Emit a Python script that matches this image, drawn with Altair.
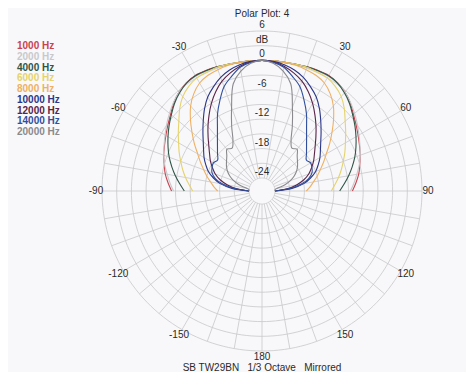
import altair as alt
import pandas as pd
import numpy as np

# ---------------- data ----------------
freqs = ["1000 Hz", "2000 Hz", "4000 Hz", "6000 Hz", "8000 Hz",
         "10000 Hz", "12000 Hz", "14000 Hz", "20000 Hz"]
colors = ["#c8434f", "#c9c9cc", "#2f5546", "#e5d36b", "#efb062",
          "#2b3688", "#5a2448", "#2f4f9e", "#8a8a8e"]

angles = [0, 5, 10, 15, 20, 25, 30, 35, 40, 45, 50, 55, 60, 65, 70, 75, 80, 85, 90]
db_1000 = [0, 0, 0, 0.1, 0.3, 0.5, 0.6, 0.3, -0.3, -1.2, -2.3, -3.2, -4.0, -4.7, -5.3, -6.0, -6.6, -7.4, -8.2]
db_2000 = [0, 0, 0, 0.1, 0.2, 0.3, 0.4, 0.2, -0.3, -1.1, -2.0, -2.9, -3.8, -4.6, -5.3, -6.1, -7.0, -7.8, -8.6]
db_4000 = [0, 0, 0, 0.1, 0.3, 0.4, 0.5, 0.2, -0.5, -1.4, -2.5, -3.5, -4.5, -5.5, -6.5, -7.6, -8.7, -9.8, -10.8]
db_6000 = [0, 0, 0, 0.1, 0.2, 0.1, 0, -0.6, -1.5, -2.9, -4.5, -5.8, -7.0, -8.0, -9.0, -9.9, -10.8, -11.7, -12.5]
db_8000 = [0, 0, 0, -0.1, -0.3, -0.6, -1.2, -2.4, -4.0, -6.0, -8.0, -9.8, -11.5, -12.8, -14.0, -15.0, -16.0, -16.8, -17.6]
db_10000 = [0, -0.1, -0.5, -1.1, -2.0, -3.2, -4.5, -6.2, -8.0, -9.6, -11.0, -12.1, -13.0, -14.0, -15.0, -16.4, -18.0, -20.5, -24]
db_12000 = [0, -0.2, -0.8, -1.7, -2.8, -4.3, -6.0, -7.8, -9.5, -11.1, -12.5, -13.6, -14.5, -15.5, -16.5, -17.8, -19.5, -21.5, -24]
db_14000 = [0, -0.3, -1.0, -2.5, -4.0, -6.3, -8.5, -10.8, -12.5, -13.8, -14.8, -15.6, -15.2, -15.4, -15.8, -16.8, -18.5, -21.0, -24]
db_20000 = [0, -0.5, -1.8, -4.0, -8.5, -12.0, -14.8, -16.0, -15.5, -16.5, -17.2, -17.8, -18.5, -19.4, -20.5, -21.8, -23.5, -24, -24]
series = [db_1000, db_2000, db_4000, db_6000, db_8000, db_10000, db_12000, db_14000, db_20000]

grid_db = [-24, -21, -18, -15, -12, -9, -6, -3, 0, 3, 6]
spoke_angles = list(range(10, 360, 10))
angle_labels = ["30", "60", "90", "120", "150", "180", "-150", "-120", "-90", "-60", "-30"]
angle_label_pos = [30, 60, 90, 120, 150, 180, 210, 240, 270, 300, 330]
db_labels = ["6", "dB", "0", "-6", "-12", "-18", "-24"]
db_label_pos = [6, 3, 0, -6, -12, -18, -24]

# ---------------- geometry helpers ----------------
DB_MIN, PX_PER_DB, R_MIN = -24, 4.9, 13.0


def radius(db):
    return R_MIN + (np.asarray(db, dtype=float) - DB_MIN) * PX_PER_DB


W, H = 458, 364
CX, CY = 254, 183
xs = alt.Scale(domain=[-CX, W - CX], range=[0, W])
ys = alt.Scale(domain=[CY - H, CY], range=[H, 0])

# curves (mirrored)
rows = []
for f, vals in zip(freqs, series):
    full_a = [-a for a in angles[::-1]] + angles[1:]
    full_v = vals[::-1] + vals[1:]
    for i, (a, v) in enumerate(zip(full_a, full_v)):
        r = radius(v)
        rows.append({"freq": f, "o": i, "x": r * np.sin(np.radians(a)), "y": r * np.cos(np.radians(a))})
curves = pd.DataFrame(rows)

# grid circles
crow = []
for d in grid_db:
    r = radius(d)
    for k, a in enumerate(range(0, 362, 2)):
        crow.append({"lvl": d, "o": k, "x": r * np.sin(np.radians(a)), "y": r * np.cos(np.radians(a))})
circles = pd.DataFrame(crow)

r0, r1 = radius(DB_MIN), radius(6)
spokes = pd.DataFrame({
    "x": [r0 * np.sin(np.radians(a)) for a in spoke_angles],
    "y": [r0 * np.cos(np.radians(a)) for a in spoke_angles],
    "x2": [r1 * np.sin(np.radians(a)) for a in spoke_angles],
    "y2": [r1 * np.cos(np.radians(a)) for a in spoke_angles],
})

RL = 166
alab = pd.DataFrame({
    "t": angle_labels,
    "x": [RL * np.sin(np.radians(a)) for a in angle_label_pos],
    "y": [RL * np.cos(np.radians(a)) for a in angle_label_pos],
})
dlab = pd.DataFrame({"t": db_labels, "x": 0.0, "y": radius(db_label_pos) + 6})

legend = pd.DataFrame({"freq": freqs})

FONT = "Liberation Sans"
color_scale = alt.Scale(domain=freqs, range=colors)

grid_c = alt.Chart(circles).mark_line(color="#c8c8cc", strokeWidth=0.8).encode(
    x=alt.X("x:Q", scale=xs, axis=None),
    y=alt.Y("y:Q", scale=ys, axis=None),
    detail="lvl:N", order="o:Q")

grid_s = alt.Chart(spokes).mark_rule(color="#c8c8cc", strokeWidth=0.8).encode(
    x=alt.X("x:Q", scale=xs, axis=None), y=alt.Y("y:Q", scale=ys, axis=None),
    x2="x2:Q", y2="y2:Q")

lines = alt.Chart(curves).mark_line(strokeWidth=1.1, interpolate="catmull-rom").encode(
    x=alt.X("x:Q", scale=xs, axis=None),
    y=alt.Y("y:Q", scale=ys, axis=None),
    color=alt.Color("freq:N", scale=color_scale, legend=None),
    detail="freq:N", order="o:Q")

atext = alt.Chart(alab).mark_text(font=FONT, fontSize=10, color="#2a2a2a").encode(
    x=alt.X("x:Q", scale=xs, axis=None), y=alt.Y("y:Q", scale=ys, axis=None), text="t:N")

dtext = alt.Chart(dlab).mark_text(font=FONT, fontSize=10, color="#2a2a2a").encode(
    x=alt.X("x:Q", scale=xs, axis=None), y=alt.Y("y:Q", scale=ys, axis=None), text="t:N")

title = alt.Chart(pd.DataFrame({"t": ["Polar Plot: 4"]})).mark_text(
    font=FONT, fontSize=10, color="#2a2a2a").encode(
    x=alt.value(254), y=alt.value(6), text="t:N")

foot = alt.Chart(pd.DataFrame({"t": ["SB TW29BN\u00a0\u00a0\u00a01/3 Octave\u00a0\u00a0\u00a0Mirrored"]})).mark_text(
    font=FONT, fontSize=10, color="#2a2a2a", baseline="alphabetic").encode(
    x=alt.value(254), y=alt.value(363), text="t:N")

leg = alt.Chart(legend).mark_text(font=FONT, fontSize=10, fontWeight="bold", align="left").encode(
    x=alt.value(9),
    y=alt.Y("freq:N", sort=freqs, scale=alt.Scale(range=[38, 124], padding=0), axis=None),
    text="freq:N",
    color=alt.Color("freq:N", scale=color_scale, legend=None))

chart = alt.layer(grid_c, grid_s, lines, atext, dtext, title, foot, leg).resolve_scale(
    y="independent").properties(
    width=W, height=H, autosize=alt.AutoSizeParams(type="none"), padding=0,
    background="#f8f8fa").configure_view(stroke=None)

chart.save("out.html", embed_options={"renderer": "svg", "actions": False})
